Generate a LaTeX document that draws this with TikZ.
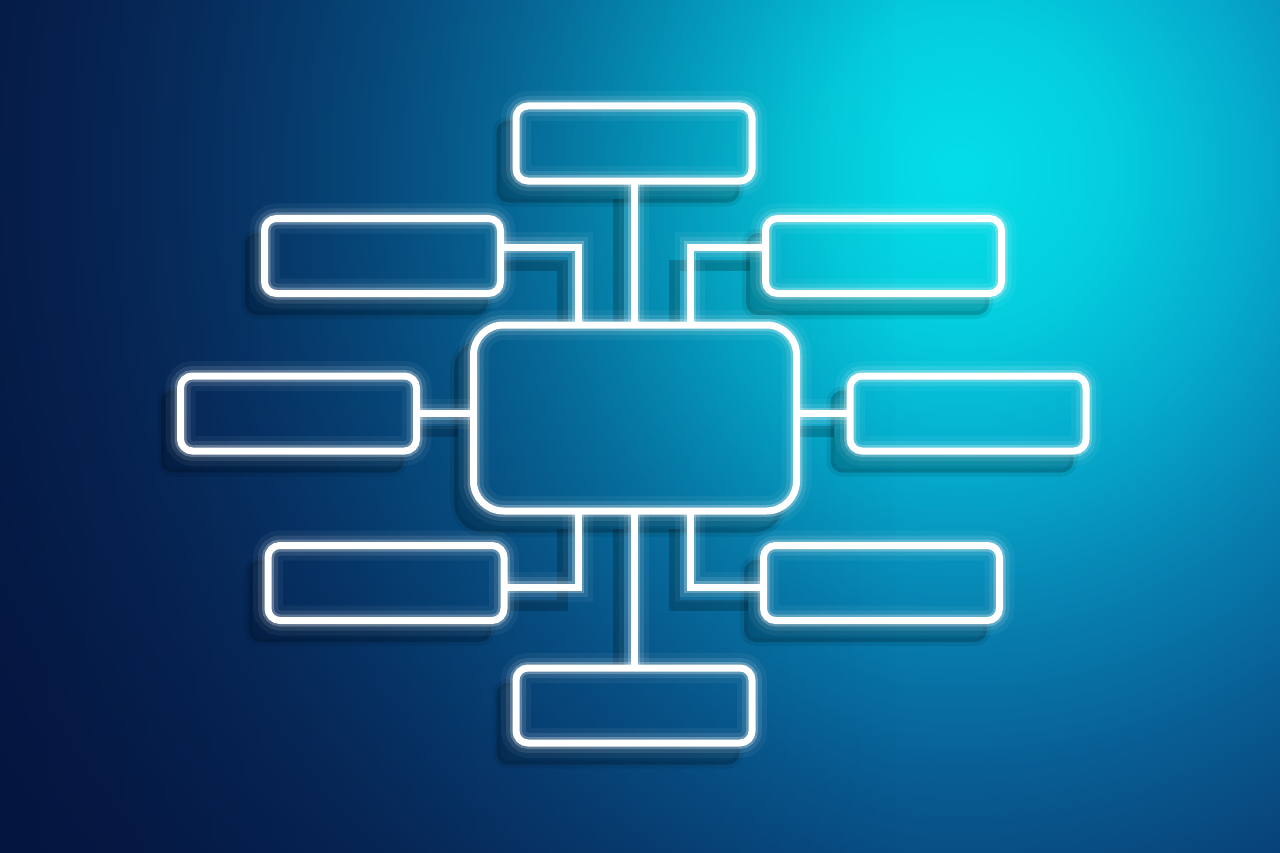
\documentclass[tikz,border=0pt]{standalone}
\usetikzlibrary{calc,positioning,fadings}
\pgfdeclarelayer{back}
\pgfsetlayers{back,main}
\definecolor{bg0}{RGB}{4,222,232}
\definecolor{bg1}{RGB}{4,206,223}
\definecolor{bg2}{RGB}{5,170,204}
\definecolor{bg3}{RGB}{7,128,176}
\definecolor{bg4}{RGB}{8,94,148}
\definecolor{bg5}{RGB}{8,66,120}
\definecolor{bg6}{RGB}{8,44,94}
\definecolor{bg7}{RGB}{6,30,76}
\definecolor{bg8}{RGB}{4,20,60}
\pgfdeclareradialshading{glowbg}{\pgfpoint{0bp}{0bp}}{color(0bp)=(bg0); color(3bp)=(bg1); color(6bp)=(bg2); color(9bp)=(bg3); color(12bp)=(bg4); color(15bp)=(bg5); color(18bp)=(bg6); color(21bp)=(bg7); color(25bp)=(bg8); color(50bp)=(bg8)}
\newcommand\bgshade{%
  \shade[shading=glowbg] ($(spot)+(-1250,-1250)$) rectangle ($(spot)+(1250,1250)$);
  \fill[bg8, fill opacity=.55, path fading=east] ($(spot)+(-1000,-230)$) rectangle ($(spot)+(-60,730)$);}
\newcommand\links[1]{%
  \draw[#1] (top.south) -- (top.south |- hub.north);
  \draw[#1] (bot.north) -- (bot.north |- hub.south);
  \draw[#1] (l.east) -- (l.east -| hub.west);
  \draw[#1] (r.west) -- (r.west -| hub.east);
  \draw[#1] ([yshift=4.5mm]tl.east) -| ([xshift=-28.5mm]hub.north);
  \draw[#1] ([yshift=4.5mm]tr.west) -| ([xshift=27.5mm]hub.north);
  \draw[#1] ([yshift=-2mm]bl.east) -| ([xshift=-28.5mm]hub.south);
  \draw[#1] ([yshift=-2mm]br.west) -| ([xshift=27.5mm]hub.south);}
\tikzset{
  card/.style={draw=white, line width=3.5mm, rounded corners=6mm, inner sep=0pt, outer sep=0pt,
    minimum width=118mm, minimum height=37.5mm, path picture={\bgshade},
    postaction={draw=white, opacity=.05, line width=15mm},
    postaction={draw=white, opacity=.1, line width=10mm},
    postaction={draw=white, opacity=.25, line width=6mm}},
  hubcard/.style={card, rounded corners=15mm, minimum width=161.5mm, minimum height=93mm},
  link/.style={draw=white, line width=3.5mm,
    preaction={draw=white, opacity=.05, line width=15mm},
    preaction={draw=white, opacity=.1, line width=10mm},
    preaction={draw=white, opacity=.25, line width=6mm}},
  shadowlink/.style={draw=black, opacity=.2, line width=5.5mm}
}
\begin{document}
\begin{tikzpicture}[x=0.5mm, y=-0.5mm]
\useasboundingbox (0,0) rectangle (1280,853);
\coordinate (spot) at (960,170);
\node[hubcard] (hub) at (635,418) {};
\node[card] (top) at (634,143.5) {};
\node[card] (tl) at (382.5,256) {};
\node[card] (tr) at (883.5,256) {};
\node[card] (l) at (298.5,413.5) {};
\node[card] (r) at (968,413.5) {};
\node[card] (bl) at (386,583) {};
\node[card] (br) at (881.5,583) {};
\node[card] (bot) at (634,705.5) {};
\begin{pgfonlayer}{back}
  \begin{scope}
    \clip (0,0) rectangle (1280,853);
    \bgshade
  \end{scope}
  \begin{scope}[transform canvas={shift={(-8mm,-9mm)}}]
    \foreach \n/\r in {top/6mm,tl/6mm,tr/6mm,l/6mm,r/6mm,bl/6mm,br/6mm,bot/6mm,hub/15mm}{
      \fill[black, opacity=.2, rounded corners=\r] ([shift={(-1.75mm,1.75mm)}]\n.north west) rectangle ([shift={(1.75mm,-1.75mm)}]\n.south east);
      \draw[black, opacity=.08, line width=4mm, rounded corners=\r] ([shift={(-1.75mm,1.75mm)}]\n.north west) rectangle ([shift={(1.75mm,-1.75mm)}]\n.south east);
    }
    \links{shadowlink}
  \end{scope}
\end{pgfonlayer}
\links{link}
\end{tikzpicture}
\end{document}
